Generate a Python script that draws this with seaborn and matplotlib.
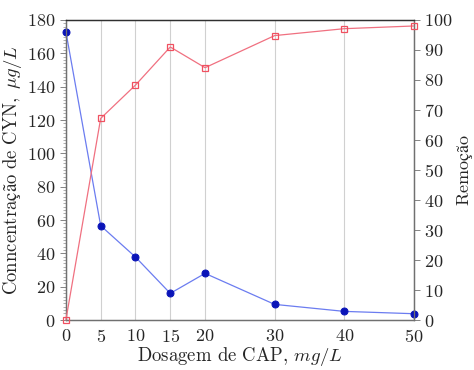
import matplotlib
matplotlib.use("Agg")
import matplotlib.pyplot as plt
import seaborn as sns
import pandas as pd
from matplotlib.ticker import MultipleLocator

# dados
dosagem = [0, 5, 10, 15, 20, 30, 40, 50]
concentracao = [173, 56.6, 37.8, 16, 28, 9.4, 5.2, 3.8]
remocao = [0, 67.2, 78.3, 91, 84.1, 94.8, 97.1, 98]

df = pd.DataFrame({"dosagem": dosagem, "cyn": concentracao, "rem": remocao})

sns.set_style("white")
plt.rcParams['font.family'] = ['cmr10', 'DejaVu Serif']
plt.rcParams['mathtext.fontset'] = 'cm'
plt.rcParams['axes.formatter.use_mathtext'] = True

fig = plt.figure(figsize=(4.74, 3.70), dpi=100)
ax = fig.add_axes([0.139, 0.135, 0.734, 0.811])
ax2 = ax.twinx()

sns.lineplot(data=df, x="dosagem", y="cyn", ax=ax, color="#6b7cf0", lw=0.9,
             marker="o", markersize=5, markerfacecolor="#0a14b8",
             markeredgecolor="#0a14b8", clip_on=False, zorder=3)
sns.lineplot(data=df, x="dosagem", y="rem", ax=ax2, color="#f07080", lw=0.9,
             marker="s", markersize=5, markerfacecolor="none",
             markeredgecolor="#f05060", markeredgewidth=0.9, clip_on=False, zorder=3)

ax.set_xlim(0, 50)
ax.set_ylim(0, 180)
ax2.set_ylim(0, 100)
ax.set_xticks(dosagem)
ax.yaxis.set_major_locator(MultipleLocator(20))
ax.yaxis.set_minor_locator(MultipleLocator(2))
ax2.yaxis.set_major_locator(MultipleLocator(10))
ax.xaxis.grid(True, color="#d0d0d0", lw=0.8)
ax.set_axisbelow(True)

for a in (ax, ax2):
    for s in a.spines.values():
        s.set_color("#707070")
        s.set_linewidth(0.9)
    a.spines["top"].set_color("#303030")
ax.tick_params(axis="both", which="major", labelsize=13, length=4, width=0.6,
               color="#707070", direction="out")
ax.tick_params(axis="x", pad=2)
ax.tick_params(axis="y", which="minor", length=2, width=0.5, color="#909090", left=True)
ax2.tick_params(axis="y", labelsize=13, length=4, width=0.6, color="#707070", direction="out")

ax.set_xlabel(r"Dosagem de CAP, $mg/L$", fontsize=13.5, labelpad=0)
ax.set_ylabel(r"$\mathrm{Conncentração\ de\ CYN,}\ \mu g/L$", fontsize=13.5, labelpad=2)
ax2.set_ylabel(r"$\mathrm{Remoção}$", fontsize=13, labelpad=2)

plt.savefig("out.png", dpi=100)
